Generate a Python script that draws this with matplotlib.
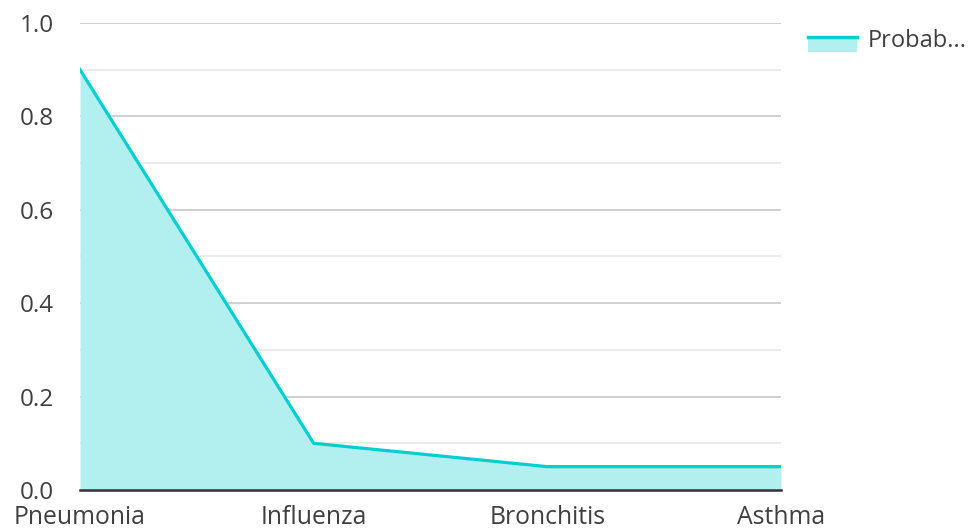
import matplotlib.pyplot as plt
from matplotlib.legend_handler import HandlerBase
from matplotlib.patches import Rectangle
from matplotlib.lines import Line2D
import numpy as np

plt.rcParams['font.family'] = ['Open Sans', 'DejaVu Sans']

diseases = ['Pneumonia', 'Influenza', 'Bronchitis', 'Asthma']
probability = [0.9, 0.1, 0.05, 0.05]
series_name = 'Probab...'

line_color = '#00CED1'
fill_color = '#B2EFEF'
text_color = '#404040'


class AreaHandler(HandlerBase):
    # filled box with a thick line along its top edge, sitting a bit low
    def create_artists(self, legend, orig_handle, xdescent, ydescent,
                       width, height, fontsize, trans):
        y0 = -ydescent - 4
        rect = Rectangle((-xdescent, y0), width, height,
                         facecolor=fill_color, edgecolor='none', transform=trans)
        ln = Line2D([-xdescent, -xdescent + width], [y0 + height, y0 + height],
                    color=line_color, lw=2.5, transform=trans)
        return [rect, ln]


fig = plt.figure(figsize=(9.71, 5.31), dpi=100)
ax = fig.add_axes([0.0824, 0.0772, 0.7219, 0.8795])

x = np.arange(len(diseases))
ax.fill_between(x, probability, 0, color=fill_color, lw=0, zorder=2)
ax.plot(x, probability, color=line_color, lw=2.3, zorder=3)

ax.set_xlim(0, len(diseases) - 1)
ax.set_ylim(0, 1)
ax.set_yticks(np.arange(0, 1.01, 0.2))
ax.set_yticklabels([f'{v:.1f}' for v in np.arange(0, 1.01, 0.2)])
ax.set_yticks(np.arange(0.1, 1.0, 0.2), minor=True)
ax.set_xticks(x)
ax.set_xticklabels(diseases)

ax.grid(axis='y', which='major', color='#c8c8c8', lw=1.2, zorder=1)
ax.grid(axis='y', which='minor', color='#e8e8e8', lw=1.2, zorder=1)
ax.tick_params(axis='y', which='both', length=0, labelsize=17.5,
               labelcolor=text_color, pad=19)
ax.tick_params(axis='x', which='both', length=0, labelsize=17.8,
               labelcolor=text_color, pad=11)

for s in ['left', 'right', 'top']:
    ax.spines[s].set_visible(False)
ax.spines['bottom'].set_color('#333333')
ax.spines['bottom'].set_linewidth(1.8)
ax.spines['bottom'].set_zorder(4)

handle = Rectangle((0, 0), 1, 1)
fig.legend([handle], [series_name], handler_map={Rectangle: AreaHandler()},
           loc='upper left', bbox_to_anchor=(0.81, 0.985), frameon=False,
           fontsize=17, labelcolor=text_color, handlelength=2.1,
           handleheight=0.55, handletextpad=0.42)

fig.savefig('out.png', dpi=100)
